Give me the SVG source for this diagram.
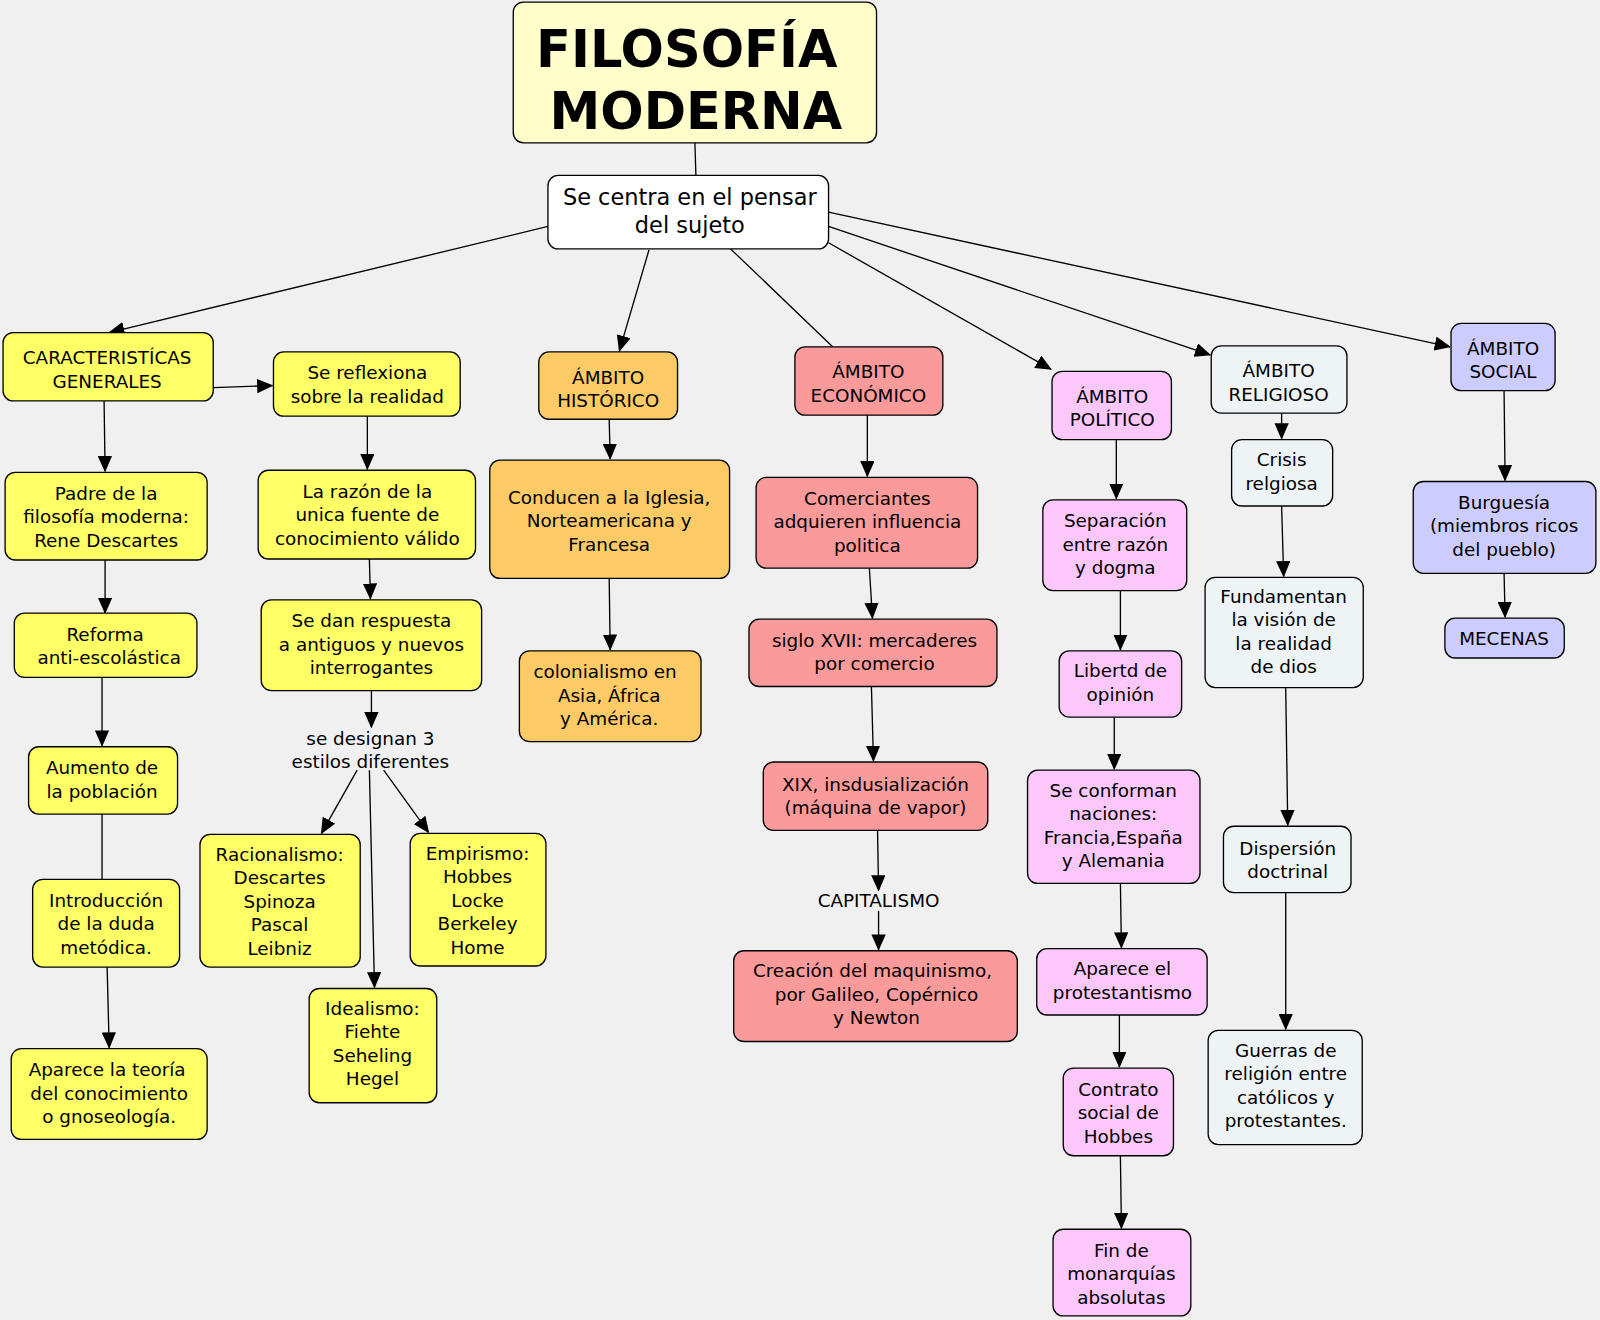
<svg xmlns="http://www.w3.org/2000/svg" width="1600" height="1320" viewBox="0 0 1600 1320">
<defs>
<marker id="a" markerWidth="16" markerHeight="14" refX="15" refY="7" orient="auto" markerUnits="userSpaceOnUse"><path d="M0,0 L16,7 L0,14 Z" fill="#000"/></marker>
<style>
rect{stroke:#000;stroke-width:1.3}
text{font-family:"DejaVu Sans",Verdana,sans-serif;font-size:18px;text-anchor:middle;fill:#000}
.e line{stroke:#000;stroke-width:1.3}
.y{fill:#ffff66}.o{fill:#fccb66}.r{fill:#fb9a9a}.p{fill:#fcc8fc}.b{fill:#eef3f5}.l{fill:#ccccff}
</style>
</defs>
<rect x="0" y="0" width="1600" height="1320" fill="#f0f0f0" style="stroke:none"/>
<g transform="scale(1.0204,1.0201)">
<g class="e">
<line x1="681" y1="140" x2="682" y2="172"/>
<line x1="537" y1="222" x2="107" y2="326" marker-end="url(#a)"/>
<line x1="636" y1="245" x2="607" y2="344" marker-end="url(#a)"/>
<line x1="716" y1="244" x2="816" y2="340"/>
<line x1="812" y1="238" x2="1030" y2="362" marker-end="url(#a)"/>
<line x1="812" y1="222" x2="1186" y2="348" marker-end="url(#a)"/>
<line x1="812" y1="208" x2="1421" y2="340" marker-end="url(#a)"/>
<line x1="209" y1="380" x2="267" y2="378" marker-end="url(#a)"/>
<line x1="102" y1="393" x2="103" y2="462" marker-end="url(#a)"/>
<line x1="103" y1="549" x2="103" y2="601" marker-end="url(#a)"/>
<line x1="100" y1="664" x2="100" y2="731" marker-end="url(#a)"/>
<line x1="100" y1="798" x2="100" y2="862"/>
<line x1="105" y1="948" x2="107" y2="1027" marker-end="url(#a)"/>
<line x1="360" y1="408" x2="360" y2="460" marker-end="url(#a)"/>
<line x1="362" y1="548" x2="363" y2="587" marker-end="url(#a)"/>
<line x1="364" y1="677" x2="364" y2="713" marker-end="url(#a)"/>
<line x1="350" y1="755" x2="315" y2="817" marker-end="url(#a)"/>
<line x1="376" y1="755" x2="420" y2="816" marker-end="url(#a)"/>
<line x1="362" y1="755" x2="367" y2="968" marker-end="url(#a)"/>
<line x1="597" y1="411" x2="598" y2="450" marker-end="url(#a)"/>
<line x1="597" y1="567" x2="598" y2="637" marker-end="url(#a)"/>
<line x1="850" y1="407" x2="850" y2="467" marker-end="url(#a)"/>
<line x1="852" y1="557" x2="855" y2="606" marker-end="url(#a)"/>
<line x1="854" y1="673" x2="856" y2="746" marker-end="url(#a)"/>
<line x1="860" y1="814" x2="861" y2="873" marker-end="url(#a)"/>
<line x1="861" y1="893" x2="861" y2="931" marker-end="url(#a)"/>
<line x1="1094" y1="431" x2="1094" y2="489" marker-end="url(#a)"/>
<line x1="1098" y1="579" x2="1098" y2="637" marker-end="url(#a)"/>
<line x1="1092" y1="703" x2="1092" y2="754" marker-end="url(#a)"/>
<line x1="1098" y1="866" x2="1099" y2="929" marker-end="url(#a)"/>
<line x1="1097" y1="995" x2="1097" y2="1046" marker-end="url(#a)"/>
<line x1="1098" y1="1133" x2="1099" y2="1204" marker-end="url(#a)"/>
<line x1="1256" y1="405" x2="1256" y2="430" marker-end="url(#a)"/>
<line x1="1256" y1="496" x2="1258" y2="565" marker-end="url(#a)"/>
<line x1="1260" y1="674" x2="1262" y2="809" marker-end="url(#a)"/>
<line x1="1260" y1="875" x2="1260" y2="1009" marker-end="url(#a)"/>
<line x1="1474" y1="383" x2="1475" y2="471" marker-end="url(#a)"/>
<line x1="1474" y1="562" x2="1475" y2="605" marker-end="url(#a)"/>
</g>
<g id="title"><rect x="503" y="2" width="356" height="138" rx="10" fill="#ffffcc"/><text x="673" y="66" style="font-size:50px;font-weight:bold">FILOSOFÍA</text><text x="682" y="126" style="font-size:50px;font-weight:bold">MODERNA</text></g>
<g id="centro"><rect x="537" y="172" width="275" height="72" rx="10" fill="#fff"/><text x="676" y="201" style="font-size:22px">Se centra en el pensar</text><text x="676" y="228" style="font-size:22px">del sujeto</text></g>
<g id="cg"><rect class="y" x="3" y="326" width="206" height="67" rx="10"/><text x="105" y="357">CARACTERISTÍCAS</text><text x="105" y="380">GENERALES</text></g>
<g id="refl"><rect class="y" x="268" y="345" width="183" height="63" rx="10"/><text x="360" y="372">Se reflexiona</text><text x="360" y="395">sobre la realidad</text></g>
<g id="hist"><rect class="o" x="528" y="345" width="136" height="66" rx="10"/><text x="596" y="376">ÁMBITO</text><text x="596" y="399">HISTÓRICO</text></g>
<g id="econ"><rect class="r" x="779" y="340" width="145" height="67" rx="10"/><text x="851" y="371">ÁMBITO</text><text x="851" y="394">ECONÓMICO</text></g>
<g id="pol"><rect class="p" x="1031" y="364" width="117" height="67" rx="10"/><text x="1090" y="395">ÁMBITO</text><text x="1090" y="418">POLÍTICO</text></g>
<g id="rel"><rect class="b" x="1187" y="339" width="133" height="66" rx="10"/><text x="1253" y="370">ÁMBITO</text><text x="1253" y="393">RELIGIOSO</text></g>
<g id="soc"><rect class="l" x="1422" y="317" width="102" height="66" rx="10"/><text x="1473" y="348">ÁMBITO</text><text x="1473" y="371">SOCIAL</text></g>
<g id="padre"><rect class="y" x="5" y="463" width="198" height="86" rx="10"/><text x="104" y="490">Padre de la</text><text x="104" y="513">filosofía moderna:</text><text x="104" y="536">Rene Descartes</text></g>
<g id="reforma"><rect class="y" x="14" y="601" width="179" height="63" rx="10"/><text x="103" y="628">Reforma</text><text x="107" y="651">anti-escolástica</text></g>
<g id="aumento"><rect class="y" x="28" y="732" width="146" height="66" rx="10"/><text x="100" y="759">Aumento de</text><text x="100" y="782">la población</text></g>
<g id="introd"><rect class="y" x="32" y="862" width="144" height="86" rx="10"/><text x="104" y="889">Introducción</text><text x="104" y="912">de la duda</text><text x="104" y="935">metódica.</text></g>
<g id="gnoseo"><rect class="y" x="11" y="1028" width="192" height="89" rx="10"/><text x="105" y="1055">Aparece la teoría</text><text x="107" y="1078">del conocimiento</text><text x="107" y="1101">o gnoseología.</text></g>
<g id="razon"><rect class="y" x="253" y="461" width="213" height="87" rx="10"/><text x="360" y="488">La razón de la</text><text x="360" y="511">unica fuente de</text><text x="360" y="534">conocimiento válido</text></g>
<g id="resp"><rect class="y" x="256" y="588" width="216" height="89" rx="10"/><text x="364" y="615">Se dan respuesta</text><text x="364" y="638">a antiguos y nuevos</text><text x="364" y="661">interrogantes</text></g>
<g id="estilos"><text x="363" y="730">se designan 3</text><text x="363" y="753">estilos diferentes</text></g>
<g id="racio"><rect class="y" x="196" y="818" width="157" height="130" rx="10"/><text x="274" y="844">Racionalismo:</text><text x="274" y="867">Descartes</text><text x="274" y="890">Spinoza</text><text x="274" y="913">Pascal</text><text x="274" y="936">Leibniz</text></g>
<g id="empir"><rect class="y" x="402" y="817" width="133" height="130" rx="10"/><text x="468" y="843">Empirismo:</text><text x="468" y="866">Hobbes</text><text x="468" y="889">Locke</text><text x="468" y="912">Berkeley</text><text x="468" y="935">Home</text></g>
<g id="ideal"><rect class="y" x="303" y="969" width="125" height="112" rx="10"/><text x="365" y="995">Idealismo:</text><text x="365" y="1018">Fiehte</text><text x="365" y="1041">Seheling</text><text x="365" y="1064">Hegel</text></g>
<g id="conducen"><rect class="o" x="480" y="451" width="235" height="116" rx="10"/><text x="597" y="494">Conducen a la Iglesia,</text><text x="597" y="517">Norteamericana y</text><text x="597" y="540">Francesa</text></g>
<g id="colon"><rect class="o" x="509" y="638" width="178" height="89" rx="10"/><text x="593" y="665">colonialismo en</text><text x="597" y="688">Asia, África</text><text x="597" y="711">y América.</text></g>
<g id="comer"><rect class="r" x="741" y="468" width="217" height="89" rx="10"/><text x="850" y="495">Comerciantes</text><text x="850" y="518">adquieren influencia</text><text x="850" y="541">politica</text></g>
<g id="siglo"><rect class="r" x="734" y="607" width="243" height="66" rx="10"/><text x="857" y="634">siglo XVII: mercaderes</text><text x="857" y="657">por comercio</text></g>
<g id="xix"><rect class="r" x="748" y="747" width="220" height="67" rx="10"/><text x="858" y="775">XIX, insdusialización</text><text x="858" y="798">(máquina de vapor)</text></g>
<g id="cap"><text x="861" y="889">CAPITALISMO</text></g>
<g id="creac"><rect class="r" x="719" y="932" width="278" height="89" rx="10"/><text x="855" y="958">Creación del maquinismo,</text><text x="859" y="981">por Galileo, Copérnico</text><text x="859" y="1004">y Newton</text></g>
<g id="sep"><rect class="p" x="1022" y="490" width="141" height="89" rx="10"/><text x="1093" y="517">Separación</text><text x="1093" y="540">entre razón</text><text x="1093" y="563">y dogma</text></g>
<g id="lib"><rect class="p" x="1038" y="638" width="120" height="65" rx="10"/><text x="1098" y="664">Libertd de</text><text x="1098" y="687">opinión</text></g>
<g id="naciones"><rect class="p" x="1007" y="755" width="169" height="111" rx="10"/><text x="1091" y="781">Se conforman</text><text x="1091" y="804">naciones:</text><text x="1091" y="827">Francia,España</text><text x="1091" y="850">y Alemania</text></g>
<g id="prot"><rect class="p" x="1016" y="930" width="167" height="65" rx="10"/><text x="1100" y="956">Aparece el</text><text x="1100" y="979">protestantismo</text></g>
<g id="contrato"><rect class="p" x="1042" y="1047" width="108" height="86" rx="10"/><text x="1096" y="1074">Contrato</text><text x="1096" y="1097">social de</text><text x="1096" y="1120">Hobbes</text></g>
<g id="fin"><rect class="p" x="1032" y="1205" width="135" height="85" rx="10"/><text x="1099" y="1232">Fin de</text><text x="1099" y="1255">monarquías</text><text x="1099" y="1278">absolutas</text></g>
<g id="crisis"><rect class="b" x="1207" y="431" width="99" height="65" rx="10"/><text x="1256" y="457">Crisis</text><text x="1256" y="480">relgiosa</text></g>
<g id="fund"><rect class="b" x="1181" y="566" width="155" height="108" rx="10"/><text x="1258" y="591">Fundamentan</text><text x="1258" y="614">la visión de</text><text x="1258" y="637">la realidad</text><text x="1258" y="660">de dios</text></g>
<g id="disp"><rect class="b" x="1199" y="810" width="125" height="65" rx="10"/><text x="1262" y="838">Dispersión</text><text x="1262" y="861">doctrinal</text></g>
<g id="guerras"><rect class="b" x="1184" y="1010" width="151" height="112" rx="10"/><text x="1260" y="1036">Guerras de</text><text x="1260" y="1059">religión entre</text><text x="1260" y="1082">católicos y</text><text x="1260" y="1105">protestantes.</text></g>
<g id="burg"><rect class="l" x="1385" y="472" width="179" height="90" rx="10"/><text x="1474" y="499">Burguesía</text><text x="1474" y="522">(miembros ricos</text><text x="1474" y="545">del pueblo)</text></g>
<g id="mec"><rect class="l" x="1416" y="606" width="117" height="39" rx="10"/><text x="1474" y="632">MECENAS</text></g>
</g>
</svg>
